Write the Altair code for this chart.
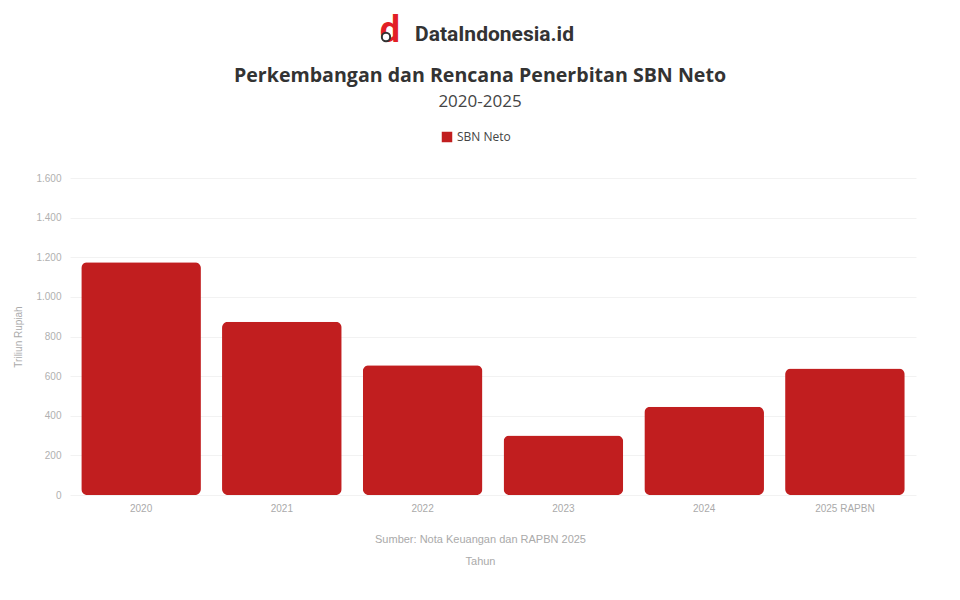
import altair as alt
import pandas as pd

years = ["2020", "2021", "2022", "2023", "2024", "2025 RAPBN"]
sbn_neto = [1175, 875, 655, 300, 445, 638]
series = ["SBN Neto"] * len(years)

title_text = "Perkembangan dan Rencana Penerbitan SBN Neto"
subtitle_text = "2020-2025"
brand = "DataIndonesia.id"

df = pd.DataFrame({"Tahun": years, "Nilai": sbn_neto, "Seri": series})

FONT = "Open Sans"
W, H = 846, 317

bars = alt.Chart(df).mark_bar(cornerRadius=6, color="#c11e1f").encode(
    x=alt.X("Tahun:N", sort=years,
            scale=alt.Scale(paddingInner=0.15, paddingOuter=0.08),
            axis=alt.Axis(title=["Sumber: Nota Keuangan dan RAPBN 2025", "Tahun"],
                          labelAngle=0, labelFontSize=10, labelColor="#aaa",
                          titleFontSize=11, titleColor="#aaa", titleFontWeight="normal",
                          titlePadding=20, titleLineHeight=22, titleX=410,
                          domain=False, ticks=False, labelPadding=8)),
    y=alt.Y("Nilai:Q", scale=alt.Scale(domain=[0, 1600]),
            axis=alt.Axis(title="Triliun Rupiah", values=list(range(0, 1601, 200)),
                          format=",.0f", labelExpr="replace(datum.label, ',', '.')",
                          labelFontSize=10, labelColor="#b0b0b0", titleFontSize=10,
                          titleColor="#aaa", titleFontWeight="normal", titlePadding=12,
                          gridColor="#f2f2f2", domain=False, ticks=False, labelPadding=9)),
    color=alt.Color("Seri:N", scale=alt.Scale(range=["#c11e1f"]),
                    legend=alt.Legend(title=None, orient="none", legendX=371, legendY=-47,
                                      symbolType="square", symbolSize=110,
                                      labelFontSize=12, labelColor="#444", labelFont=FONT)),
)

text_df = pd.DataFrame({"t": [brand], "title": [title_text], "sub": [subtitle_text], "d": ["d"]})
base = alt.Chart(text_df)

logo = base.mark_text(font="Roboto", fontSize=21, fontWeight="bold",
                      color="#333", align="left", baseline="middle").encode(
    text="t:N", x=alt.value(345), y=alt.value(-143))
icon = base.mark_text(font="Roboto", fontSize=36, fontWeight="bold",
                      color="#e21f26", align="center", baseline="middle").encode(
    text="d:N", x=alt.value(320), y=alt.value(-147))
lens = base.mark_point(shape="circle", size=70, filled=False, stroke="#333",
                       strokeWidth=2, fill="#ffffff", fillOpacity=1).encode(
    x=alt.value(316), y=alt.value(-141))
title = base.mark_text(font=FONT, fontSize=19.6, fontWeight="bold", color="#333",
                       align="center", baseline="middle").encode(
    text="title:N", x=alt.value(410), y=alt.value(-102))
subtitle = base.mark_text(font=FONT, fontSize=17, color="#444",
                          align="center", baseline="middle").encode(
    text="sub:N", x=alt.value(410), y=alt.value(-76))

chart = alt.layer(bars, icon, lens, logo, title, subtitle).properties(
    width=W, height=H,
    autosize=alt.AutoSizeParams(type="none"),
    padding={"left": 62, "top": 170, "right": 30, "bottom": 80},
).configure_view(stroke=None)

chart.save("out.html", embed_options={"renderer": "svg", "actions": False})
